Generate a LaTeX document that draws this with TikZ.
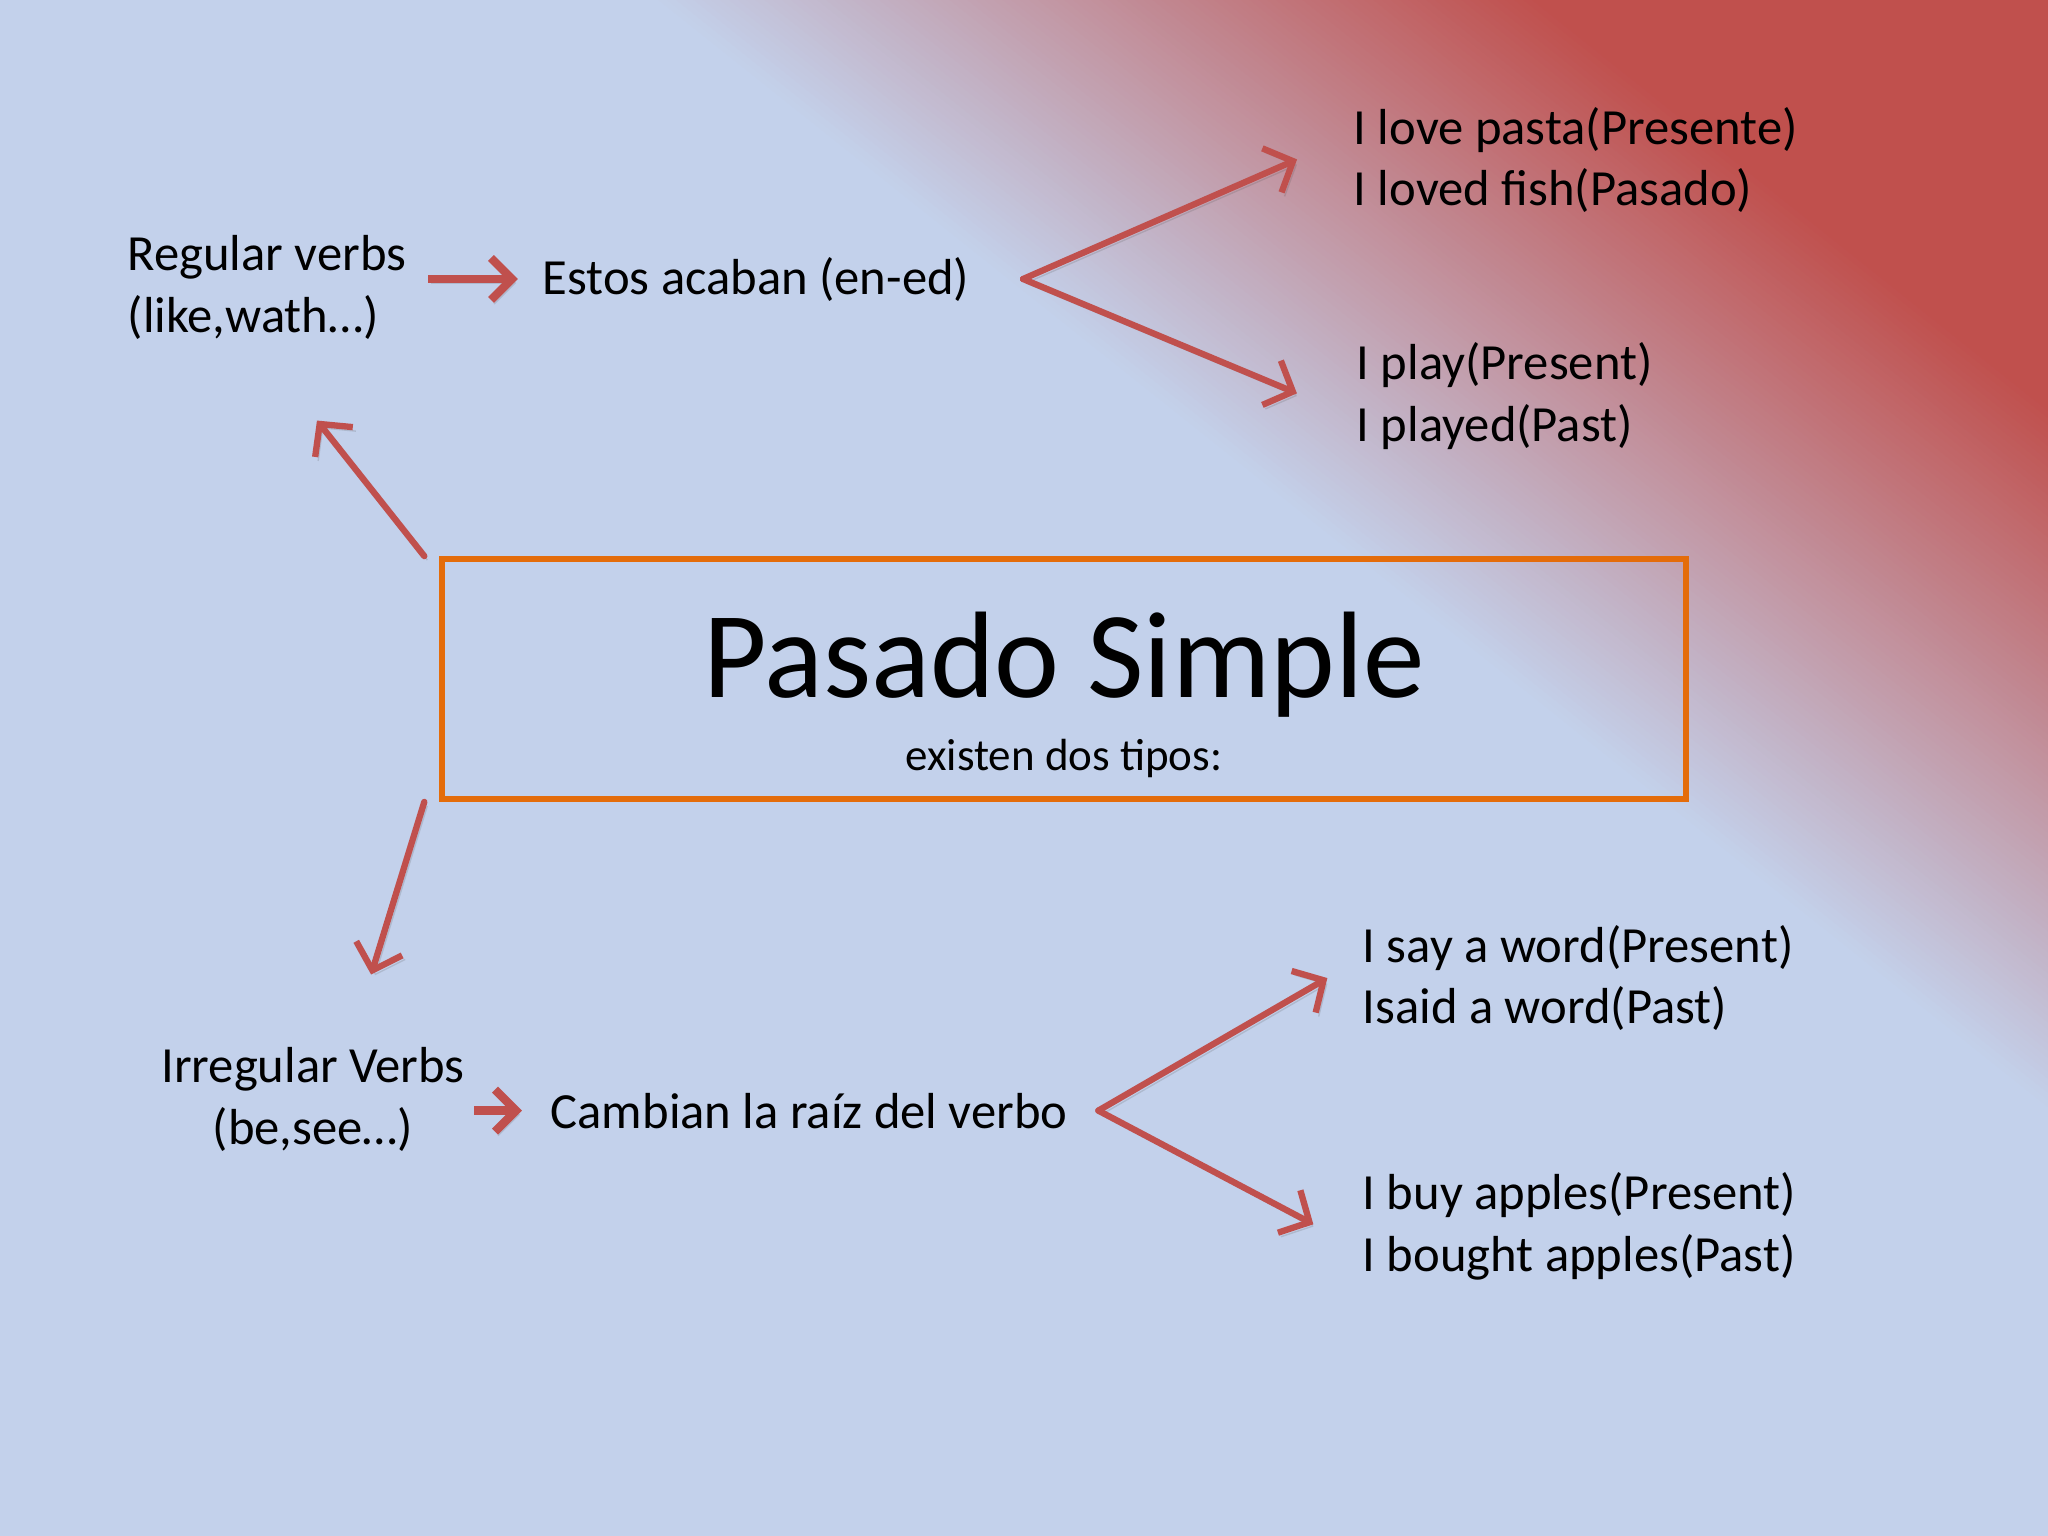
\documentclass[tikz,border=0pt]{standalone}
\usepackage{fontspec}
\setmainfont{Carlito}
\usetikzlibrary{arrows.meta,calc}
\definecolor{bgblue}{RGB}{195,209,235}
\definecolor{slidered}{RGB}{192,80,77}
\definecolor{boxorange}{RGB}{228,108,10}
\tikzset{
  txt/.style={inner sep=0pt, font=\fontsize{14.4}{17.6}\selectfont, align=left},
  shadowed/.style={preaction={draw=black!70, opacity=.18, transform canvas={shift={(0.3mm,-0.4mm)}}}},
  arr/.style={draw=slidered, line width=1.8pt, line cap=round, shadowed, -{Straight Barb[length=2.3mm,width=4.8mm]}},
  fatarr/.style={draw=slidered, line width=2.4pt, shadowed, -{Straight Barb[length=2.1mm,width=4.2mm]}},
}
\begin{document}
\begin{tikzpicture}[x=0.01cm,y=-0.01cm]
\fill[bgblue] (0,0) rectangle (2048,1536);
\begin{scope}
\clip (0,0) rectangle (2048,1536);
\foreach \i in {0,...,99}{
  \pgfmathsetmacro\sa{405+5.5*\i}
  \pgfmathsetmacro\sb{\sa+6.5}
  \fill[slidered!\i!bgblue] ($\sa*(0.623,-0.782)-3000*(0.782,0.623)$) -- ($\sb*(0.623,-0.782)-3000*(0.782,0.623)$)
    -- ($\sb*(0.623,-0.782)+3000*(0.782,0.623)$) -- ($\sa*(0.623,-0.782)+3000*(0.782,0.623)$) -- cycle;
}
\fill[slidered] ($955*(0.623,-0.782)-3000*(0.782,0.623)$) -- ($3000*(0.623,-0.782)-3000*(0.782,0.623)$)
  -- ($3000*(0.623,-0.782)+3000*(0.782,0.623)$) -- ($955*(0.623,-0.782)+3000*(0.782,0.623)$) -- cycle;
\end{scope}

\node[draw=boxorange, line width=1.6pt, minimum width=12.43cm, minimum height=2.4cm] (box) at (1064,679) {};
\node[inner sep=0pt, font=\fontsize{35}{42}\selectfont, anchor=base] (title) at (1064,697) {Pasado Simple};
\node[inner sep=0pt, font=\fontsize{12.8}{15}\selectfont, anchor=base] (types) at (1064,770) {existen dos tipos:};

\node[txt, anchor=west] (reg) at (127,287) {Regular verbs\\(like,wath…)};
\node[txt, anchor=base west] (estos) at (542,294) {Estos acaban (en-ed)};
\node[txt, anchor=west] (love) at (1353,160) {I love pasta(Presente)\\I loved fish(Pasado)};
\node[txt, anchor=west] (play) at (1356,396) {I play(Present)\\I played(Past)};
\node[txt, align=center] (irr) at (313,1099) {Irregular Verbs\\(be,see…)};
\node[txt, anchor=base west] (cambian) at (550,1128) {Cambian la raíz del verbo};
\node[txt, anchor=west] (say) at (1362,978) {I say a word(Present)\\Isaid a word(Past)};
\node[txt, anchor=west] (buy) at (1362,1226) {I buy apples(Present)\\I bought apples(Past)};

\coordinate (fork1) at ([xshift=5.3mm]estos.east);
\coordinate (fork2) at ([xshift=3mm]cambian.east);

\draw[fatarr, shorten <=2.1mm, shorten >=2.4mm] (reg.east |- estos.west) -- (estos.west);
\draw[fatarr, shorten <=0.9mm, shorten >=2.8mm] (irr.east |- cambian.west) -- (cambian.west);
\draw[arr, shorten >=6.1mm] (fork1) -- ([yshift=2.5mm]love.west);
\draw[arr, shorten >=6.4mm] (fork1) -- ([yshift=-2.2mm]play.west);
\draw[arr, shorten >=4mm] (fork2) -- ([yshift=2mm]say.west);
\draw[arr, shorten >=5.5mm] (fork2) -- ([yshift=-2.4mm]buy.west);
\draw[arr, shorten >=10.3mm] ([xshift=-1.5mm]box.north west) -- ([xshift=-1.4mm]reg.south);
\draw[arr, shorten >=7.5mm] ([xshift=-1.5mm]box.south west) -- ([xshift=3.6mm]irr.north);
\end{tikzpicture}
\end{document}
